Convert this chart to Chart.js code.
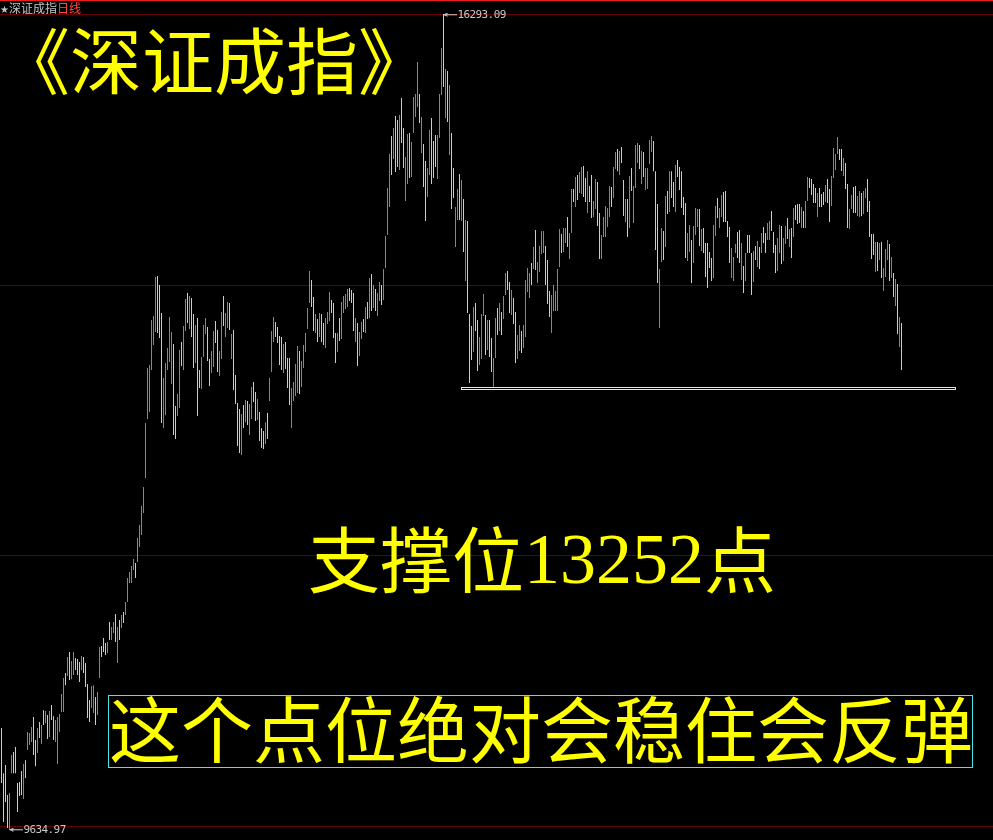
<!DOCTYPE html>
<html lang="zh-CN">
<head>
<meta charset="utf-8">
<title>深证成指 日线</title>
<script src="https://cdn.jsdelivr.net/npm/chart.js@4.4.1/dist/chart.umd.min.js"></script>
<style>
html,body{margin:0;padding:0;background:#000;}
#stage{position:relative;width:993px;height:840px;overflow:hidden;background:#000;}
#kline{position:absolute;left:0;top:0;}
.txt{position:absolute;white-space:nowrap;margin:0;}
.cjk{font-family:"Noto Sans CJK SC","Noto Sans CJK JP",sans-serif;}
#topRule{position:absolute;left:0;top:0;width:993px;height:1px;background:#ee1c1c;}
#hdr{left:0;top:1px;font-size:12px;line-height:13px;color:#c4c4c4;}
#hdr .star{font-family:"DejaVu Sans",sans-serif;font-size:10px;}
#hdr .period{color:#ff4a4a;}
.big{color:#ffff00;font-size:72px;line-height:72px;}
#title{left:-2px;top:21px;}
#support{left:308px;top:520px;}
#support .num{font-family:"Liberation Serif",serif;position:relative;top:-4px;}
#frame{position:absolute;left:108px;top:695px;width:865px;height:73px;border:1px solid #48e6e6;box-sizing:border-box;}
#claim{left:109px;top:690px;}
.ext{font-family:"DejaVu Sans Mono",monospace;font-size:11px;line-height:12px;color:#c8c8c8;letter-spacing:-0.6px;}
.ext .arr{display:inline-block;width:15px;}
.ext .arr span{display:inline-block;transform:scaleX(2.3);transform-origin:0 50%;}
</style>
</head>
<body>
<div id="stage">
  <canvas id="kline" width="993" height="840"></canvas>
  <div id="topRule"></div>
  <div id="hdr" class="txt cjk"><span class="star">★</span>深证成指<span class="period">日线</span></div>
  <div id="title" class="txt cjk big">《深证成指》</div>
  <div id="support" class="txt cjk big">支撑位<span class="num">13252</span>点</div>
  <div id="frame"></div>
  <div id="claim" class="txt cjk big">这个点位绝对会稳住会反弹</div>
  <div id="hiLabel" class="txt ext"></div>
  <div id="loLabel" class="txt ext"></div>
</div>
<script>
// ---- Daily candles of 深证成指 (one entry per trading day, oldest first) ----
const highs = [
10467,10099,10165,9920,9936,10246,10271,10312,10018,10026,
10116,10173,10205,10434,10426,10475,10556,10369,10467,10516,
10491,10613,10605,10573,10605,10654,10564,10532,10556,10581,
10744,10875,10915,11046,11087,11013,11087,11038,11030,11005,
11054,11046,10997,10826,10695,10809,10817,10720,10760,11128,
11136,11201,11160,11168,11332,11291,11332,11397,11291,11348,
11389,11413,11495,11691,11740,11789,11846,11814,12017,12123,
12278,12433,12955,13404,13429,13796,13829,14147,14155,14081,
13853,13323,13446,13567,13820,13698,13600,13094,13192,13551,
13616,13747,13967,14016,13992,13975,13845,13755,13812,13388,
13494,13755,13812,13739,13478,13543,13706,13788,13714,13543,
13861,13992,13853,13943,13935,13682,13714,13347,13119,13070,
13029,13102,13143,13135,13110,13249,13290,13208,13151,13045,
12915,12890,12963,13037,13323,13706,13820,13780,13739,13665,
13657,13600,13616,13486,13486,13241,13290,13437,13584,13543,
13462,13592,13690,13894,14196,14122,13984,13845,13804,13853,
13845,13772,13812,13861,14024,13959,13935,13690,13690,13812,
13943,13992,14008,14049,14057,14041,14016,13812,13772,13698,
13780,13804,13902,13943,14139,14171,14081,14049,14016,14106,
14081,14212,14481,14873,15150,15297,15363,15460,15428,15469,
15607,15363,15126,15314,15322,15248,15615,15640,15901,15640,
15452,15232,15093,15036,15346,15444,15256,15305,15305,15640,
16015,16293.09,15844,15828,15713,15322,15036,14718,14865,14987,
14938,14783,14612,14604,13845,13747,13902,13935,13796,13657,
13845,14008,13837,13796,13796,13649,13486,13812,13894,13935,
13861,13992,14179,14196,14106,14041,13975,13861,13674,13755,
13706,13755,14122,14220,14179,14261,14392,14530,14269,14400,
14522,14522,14400,14286,14032,14000,14081,14032,14212,14538,
14498,14547,14547,14636,14506,14865,14865,14963,14979,15003,
15044,15052,14955,15011,14889,14979,14767,14946,14922,14669,
14489,14636,14726,14710,14889,14881,15044,15167,15191,15175,
15207,14938,14783,14783,14971,15036,14889,15224,15240,15224,
15175,15167,15036,15036,15265,15297,15256,15011,14742,14212,
14547,14522,14808,14849,15011,15011,14922,15061,15102,15044,
15011,14800,14751,14506,14571,14449,14563,14710,14702,14702,
14538,14547,14424,14424,14351,14302,14571,14726,14791,14710,
14816,14840,14849,14604,14555,14384,14310,14416,14514,14530,
14424,14237,14343,14489,14489,14343,14359,14400,14441,14392,
14506,14555,14506,14587,14604,14685,14514,14408,14465,14571,
14563,14465,14563,14628,14538,14547,14710,14734,14742,14742,
14718,14685,14767,14963,14955,14946,14906,14873,14832,14873,
14824,14840,14897,14946,14865,14971,15199,15150,15289,15191,
15191,15118,15077,14906,14702,14816,14881,14889,14808,14849,
14832,14849,14873,14946,14767,14498,14498,14433,14433,14424,
14433,14220,14375,14449,14416,14310,14179,14130,14090,13820,13772
];
const lows = [
10018,9700,9863,9651,9634.97,10099,10099,10099,9781,9912,
9920,9887,10059,10287,10328,10352,10246,10156,10263,10385,
10336,10491,10507,10377,10393,10532,10369,10352,10173,10434,
10597,10597,10817,10891,10858,10866,10899,10940,10899,10842,
10940,10915,10801,10548,10516,10630,10589,10491,10573,10875,
11046,11087,11062,11079,11185,11185,11242,11168,10997,11185,
11283,11323,11389,11495,11650,11650,11756,11691,11821,11944,
12041,12221,12507,12988,13045,13388,13592,13698,13690,13649,
12955,12915,13020,13388,13454,13274,12857,12825,13012,13078,
13421,13388,13706,13772,13722,13657,13404,13446,13012,13241,
13233,13494,13682,13462,13257,13364,13413,13608,13372,13339,
13478,13747,13657,13731,13714,13478,13225,13110,12768,12711,
12694,12915,12963,12939,12857,12988,13127,12972,12980,12808,
12751,12743,12784,12825,13135,13372,13616,13657,13608,13429,
13388,13364,13396,13241,13102,12915,13135,13176,13200,13192,
13249,13404,13535,13722,13935,13902,13706,13690,13616,13657,
13616,13592,13567,13763,13788,13853,13649,13446,13535,13624,
13641,13853,13886,13902,13951,13935,13706,13616,13421,13502,
13641,13698,13690,13804,13812,13869,13894,13869,13829,13951,
13918,13959,14220,14489,14718,14979,15110,15003,15044,15020,
15240,15036,14767,14906,14955,14963,15322,15452,15534,15403,
15159,14881,14604,14800,14979,14906,14955,15044,14946,15281,
15632,15697,15444,15412,15143,14702,14791,14392,14612,14612,
14604,14351,14114,13853,13282,13470,13535,13706,13380,13429,
13478,13829,13510,13551,13494,13372,13252,13486,13674,13706,
13674,13804,14000,14041,13853,13837,13763,13446,13478,13543,
13527,13567,13657,14024,13975,14081,14212,14204,14098,14188,
14334,14343,14081,13926,13820,13690,13869,13869,13869,14228,
14343,14351,14424,14392,14294,14506,14759,14718,14775,14832,
14824,14800,14759,14669,14759,14628,14636,14702,14563,14294,
14294,14473,14473,14555,14636,14718,14791,15028,15011,14979,
15077,14644,14595,14473,14547,14849,14587,14873,15077,15028,
14906,14963,14857,14865,15069,15167,15011,14367,14098,13731,
14269,14286,14392,14661,14677,14791,14718,14677,14963,14857,
14710,14653,14302,14277,14351,14098,14261,14489,14555,14400,
14359,14343,14147,14057,14220,14114,14139,14481,14628,14547,
14636,14595,14595,14473,14261,14139,14114,14343,14302,14261,
14122,14016,14114,14343,14343,14000,14106,14286,14228,14212,
14343,14424,14343,14449,14449,14522,14343,14179,14196,14343,
14253,14277,14416,14457,14392,14302,14473,14612,14579,14587,
14547,14547,14547,14767,14873,14816,14751,14751,14636,14718,
14718,14734,14759,14751,14595,14726,14955,15020,15150,15102,
15012,14971,14865,14547,14538,14702,14669,14669,14644,14636,
14644,14661,14791,14677,14473,14294,14326,14188,14196,14286,
14139,14032,14147,14286,14114,14139,13984,13910,13682,13575,13388
];
// u = 阳线 (close above open, red), d = 阴线 (cyan)
const direction = (
"dddduudddd" + "duduuuddud" + "udududduuu" + "uududuuddd" + "udddduuduu" +
"ddduduudud" + "uduuuuuduu" + "uuuuuuuudd" + "duuuuudduu" + "duududdudd" +
"uuudduuddu" + "uduududddd" + "ududuuddud" + "dduduuuddd" + "duddduuuud" +
"uuuuuddudu" + "dduuudddud" + "uuuudddudu" + "ududududuu" + "duuuududdu" +
"dduuduuuud" + "udduuddduu" + "udududduud" + "ududdduddu" + "uududduudu" +
"duuddudduu" + "duuuududuu" + "uuddduuuuu" + "duuduududu" + "uddudduudd" +
"uuuuuduudu" + "ddududuuud" + "uduuuudddu" + "udududdudd" + "ddduuduuud" +
"uddddduudu" + "udddduuudd" + "ududddudud" + "udduuddduu" + "duudududdd" +
"uduuddddud" + "ddudduuuud" + "dudduudduu" + "duuddddudu" + "duuudududud"
).split("");
// horizontal guide levels of the price pane and the marked support level
const gridLevels = [16293.09, 14082, 11879, 9668];
const supportLevel = 13252;
const supportFromCandle = 230;
const supportToCandle = 477;

if (highs.length !== lows.length || highs.length !== direction.length) {
  throw new Error("length mismatch " + highs.length + " " + lows.length + " " + direction.length);
}

const UP = "#ff5454", DOWN = "#54ffff";
const points = highs.map((h, i) => ({ x: i, y: [lows[i], h] }));

const gridPlugin = {
  id: "paneGrid",
  beforeDatasetsDraw(chart) {
    const { ctx, scales: { y } } = chart;
    ctx.save();
    ctx.strokeStyle = "#640000";
    ctx.lineWidth = 1;
    gridLevels.forEach(v => {
      const py = Math.round(y.getPixelForValue(v)) + 0.5;
      ctx.beginPath();
      ctx.moveTo(0, py);
      ctx.lineTo(chart.width, py);
      ctx.stroke();
    });
    ctx.restore();
  }
};
const supportPlugin = {
  id: "supportBand",
  afterDatasetsDraw(chart) {
    const { ctx, scales: { x, y } } = chart;
    const py = Math.round(y.getPixelForValue(supportLevel));
    const x0 = Math.floor(x.getPixelForValue(supportFromCandle));
    const x1 = Math.floor(x.getPixelForValue(supportToCandle));
    ctx.save();
    ctx.strokeStyle = "#ffeb7a";
    ctx.lineWidth = 1;
    ctx.strokeRect(x0 + 0.5, py + 0.5, x1 - x0, 2);
    ctx.restore();
  }
};

const chart = new Chart(document.getElementById("kline"), {
  type: "bar",
  data: {
    datasets: [{
      data: points,
      backgroundColor: direction.map(d => d === "u" ? UP : DOWN),
      borderWidth: 0,
      barThickness: 1,
      inflateAmount: 0
    }]
  },
  options: {
    responsive: false,
    animation: false,
    events: [],
    layout: { padding: { top: 14, bottom: 10, left: 0, right: 0 } },
    plugins: { legend: { display: false }, tooltip: { enabled: false } },
    scales: {
      x: { type: "linear", min: -0.75, max: 495.75, offset: false, display: false },
      y: { min: Math.min(...lows), max: Math.max(...highs), display: false }
    }
  },
  plugins: [gridPlugin, supportPlugin]
});

// extreme-value markers, placed from the chart's own scales
(function placeMarkers() {
  const xs = chart.scales.x, ys = chart.scales.y;
  const hi = Math.max(...highs), lo = Math.min(...lows);
  const hiIdx = highs.indexOf(hi), loIdx = lows.indexOf(lo);
  const arrow = '<span class="arr"><span>←</span></span>';
  const hiEl = document.getElementById("hiLabel");
  const loEl = document.getElementById("loLabel");
  hiEl.innerHTML = arrow + hi.toFixed(2);
  loEl.innerHTML = arrow + lo.toFixed(2);
  hiEl.style.left = (xs.getPixelForValue(hiIdx) - 1) + "px";
  hiEl.style.top = (ys.getPixelForValue(hi) - 5) + "px";
  loEl.style.left = (xs.getPixelForValue(loIdx) - 1) + "px";
  loEl.style.top = (ys.getPixelForValue(lo) - 6) + "px";
})();
</script>
</body>
</html>
